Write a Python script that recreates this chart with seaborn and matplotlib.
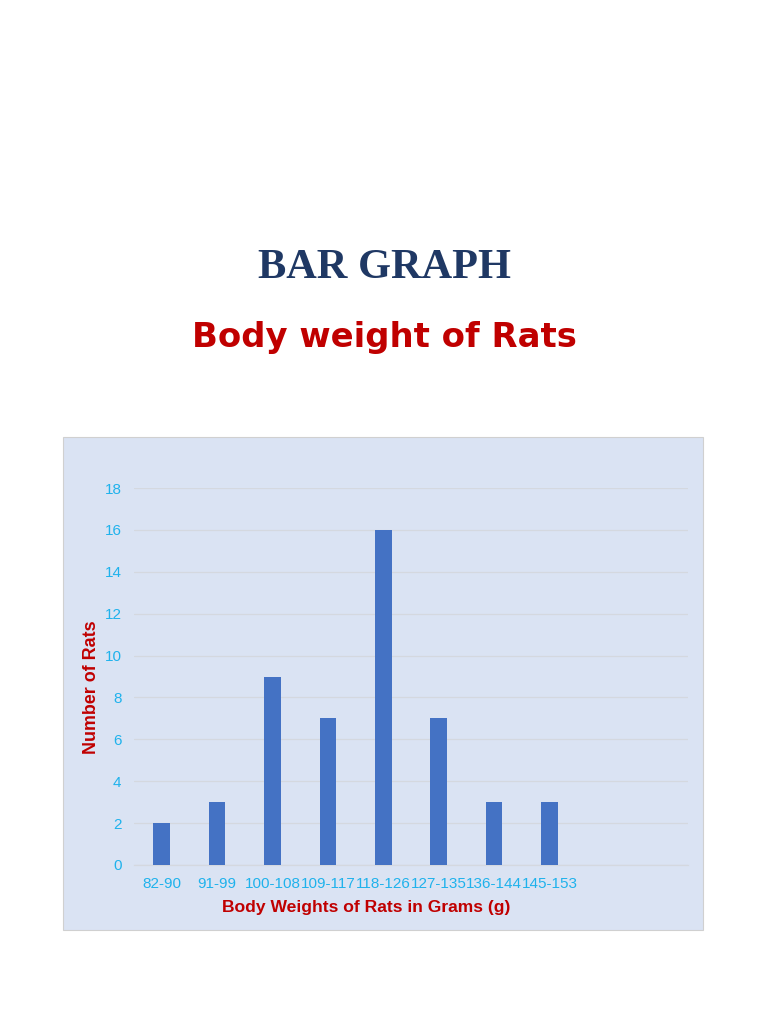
import matplotlib
matplotlib.use("Agg")
import matplotlib.pyplot as plt
import seaborn as sns
import pandas as pd
from matplotlib.patches import Rectangle

categories = ["82-90", "91-99", "100-108", "109-117", "118-126",
              "127-135", "136-144", "145-153"]
counts = [2, 3, 9, 7, 16, 7, 3, 3]
title_main = "BAR GRAPH"
title_sub = "Body weight of Rats"
x_label = "Body Weights of Rats in Grams (g)"
y_label = "Number of Rats"

df = pd.DataFrame({"range": categories, "count": counts})

sns.set_theme(style="white")
plt.rcParams['font.family'] = ['Liberation Sans', 'DejaVu Sans']

fig = plt.figure(figsize=(7.68, 10.24), dpi=100)
fig.patch.set_facecolor("white")

panel_color = "#dae3f3"
panel = Rectangle((63 / 768, 1 - 930 / 1024), 640 / 768, 493 / 1024,
                  transform=fig.transFigure, facecolor=panel_color,
                  edgecolor="#d0d0d0", linewidth=0.8, zorder=0)
fig.patches.append(panel)

ax = fig.add_axes([134 / 768, 1 - 865 / 1024, 554 / 768, 377 / 1024])
ax.set_zorder(2)
ax.patch.set_alpha(0)

sns.barplot(data=df, x="range", y="count", order=categories, color="#4472c4",
            saturation=1, width=0.3, linewidth=0, ax=ax, zorder=3)

ax.set_xlim(-0.5, 9.5)
ax.set_ylim(0, 18)
ax.set_yticks(range(0, 19, 2))
ax.yaxis.grid(True, color="#d4d8df", linewidth=0.9, zorder=0)
ax.set_axisbelow(True)
for s in ["top", "right", "left"]:
    ax.spines[s].set_visible(False)
ax.spines["bottom"].set_color("#d4d8df")
ax.spines["bottom"].set_linewidth(0.9)

tick_color = "#1fb2ec"
ax.tick_params(axis="both", length=0, labelsize=11, labelcolor=tick_color)
ax.tick_params(axis="y", pad=9)
ax.tick_params(axis="x", pad=9)

label_color = "#c00000"
ax.set_xlabel(x_label, fontsize=12.6, fontweight="bold", color=label_color)
ax.set_ylabel(y_label, fontsize=12.9, fontweight="bold", color=label_color)
ax.xaxis.set_label_coords((366 - 134) / 554, -(900 - 865) / 377)
ax.yaxis.set_label_coords(-(134 - 100) / 554, (865 - 687) / 377)

fig.text(0.5, 1 - 268 / 1024, title_main, ha="center", va="center",
         fontsize=30.5, fontweight="bold", color="#1f3864",
         family=["Liberation Serif", "DejaVu Serif"])
fig.text(0.5, 1 - 337 / 1024, title_sub, ha="center", va="center",
         fontsize=24.4, fontweight="bold", color="#c00000",
         family=["DejaVu Sans"])

fig.savefig("out.png", dpi=100)
